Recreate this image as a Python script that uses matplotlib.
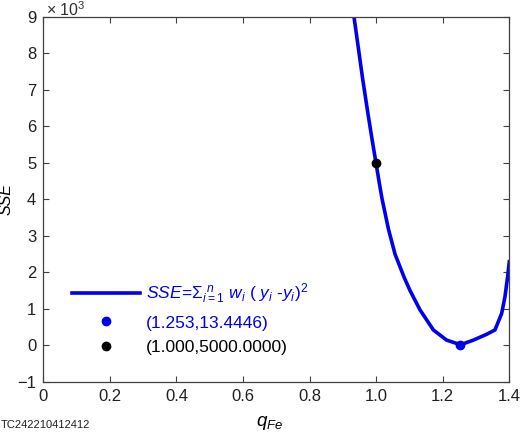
import matplotlib
matplotlib.use("Agg")
import matplotlib.pyplot as plt
import numpy as np

plt.rcParams['font.family'] = ['Liberation Sans', 'DejaVu Sans']
plt.rcParams['mathtext.fontset'] = 'custom'
plt.rcParams['mathtext.rm'] = 'Liberation Sans'
plt.rcParams['mathtext.it'] = 'Liberation Sans:italic'
plt.rcParams['mathtext.bf'] = 'Liberation Sans:bold'

# data (SSE values)
q_vals = [0.9335, 0.9465, 0.9595, 0.9745, 0.9885, 0.9995, 1.0094, 1.0176, 1.0365,
          1.0566, 1.0846, 1.1017, 1.1317, 1.1717, 1.2117, 1.2536, 1.292, 1.332,
          1.357, 1.377, 1.387, 1.395, 1.400]
sse_vals = [9000, 8150, 7300, 6400, 5600, 5000, 4450, 4020, 3200,
            2500, 1850, 1500, 970, 420, 140, 13.4446, 140, 300,
            420, 870, 1330, 1880, 2290]
best_q, best_sse = 1.253, 13.4446
ref_q, ref_sse = 1.000, 5000.0
xticks = [0, 0.2, 0.4, 0.6, 0.8, 1.0, 1.2, 1.4]
xticklabels = ['0', '0.2', '0.4', '0.6', '0.8', '1.0', '1.2', '1.4']
yticks = list(range(-1, 10))

fig = plt.figure(figsize=(5.2, 4.33), dpi=100)
ax = fig.add_axes([43.3 / 520, (433 - 381.7) / 433, 466 / 520, 364.7 / 433])

blue = '#0000f0'
scale = 1000.0
ln, = ax.plot(q_vals, np.array(sse_vals) / scale, color=blue, lw=2.6,
              solid_joinstyle='round')
p1, = ax.plot([best_q], [best_sse / scale], 'o', color=blue, ms=6, ls='none')
p2, = ax.plot([ref_q], [ref_sse / scale], 'o', color='black', ms=6, ls='none')

ax.set_xlim(0, 1.4)
ax.set_ylim(-1, 9)
ax.set_xticks(xticks)
ax.set_xticklabels(xticklabels)
ax.set_yticks(yticks)
ax.tick_params(direction='in', top=True, right=True, labelsize=12, length=4.5,
               color='#404040', width=0.8, pad=5, labelcolor='#202020')
for s in ax.spines.values():
    s.set_color('#404040')
    s.set_linewidth(0.9)

fig.text(46 / 520, 1 - 16 / 433, r'$\times\ 10^3$', fontsize=11.5,
         va='baseline', ha='left', color='#303030')
ax.set_ylabel('SSE', fontsize=11.5, style='italic')
ax.yaxis.set_label_coords(-0.063, 0.5)
ax.set_xlabel(r'$q_{Fe}$', fontsize=13.5)
ax.xaxis.set_label_coords(0.485, -0.088)

labels = [r'$SSE\!=\!\Sigma_{i=1}^{\ n}\ w_i\ (\ y_i\ \text{-}y_i)^2$',
          '(1.253,13.4446)', '(1.000,5000.0000)']
leg = ax.legend([ln, p1, p2], labels, loc='upper left', bbox_to_anchor=(0.047, 0.294),
                frameon=False, fontsize=12.5, handlelength=3.9, handletextpad=0.35,
                labelspacing=0.55, labelcolor=[blue, blue, 'black'],
                borderaxespad=0)

fig.text(0.002, 0.012, 'TC242210412412', fontsize=8, color='#202020')

fig.savefig('out.png', dpi=100)
